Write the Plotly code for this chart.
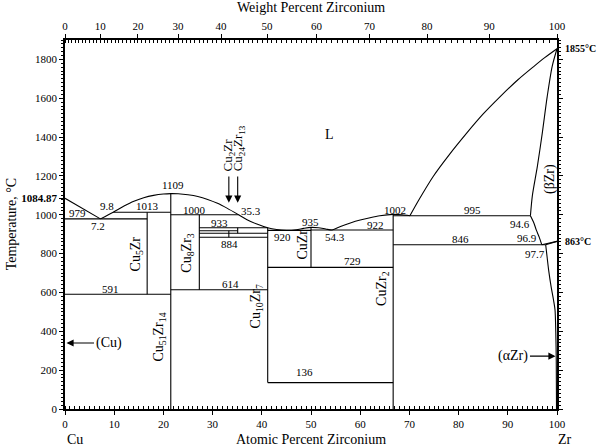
import plotly.graph_objects as go

# ---------------- data (atomic % Zr, temperature °C) ----------------
liq_cu_x = [0, 7.2]
liq_cu_y = [1084.87, 979]

liq_a_x = [7.2, 9.8, 12, 14, 16, 18, 20, 21.5, 23, 25, 27, 29, 31, 33, 35.3, 37, 39, 41.2,
           43, 45, 47, 48.5, 50, 51.5, 53, 54.3, 56, 58, 60, 62, 64, 66.7, 68.5, 70.1]
liq_a_y = [979, 1013, 1045, 1070, 1088, 1100, 1107, 1109, 1108, 1103, 1094, 1079, 1059, 1033, 1000, 975, 952, 933,
           924, 920, 923, 930, 935, 933, 927, 922, 940, 958, 973, 985, 995, 1002, 1000, 995]

liq_zr_x = [70.1, 72, 74.8, 78, 81.6, 85, 88.4, 92, 95.2, 97.5, 100]
liq_zr_y = [995, 1080, 1196, 1306, 1419, 1519, 1607, 1694, 1762, 1809, 1855]

sol_zr_x = [94.6, 95.0, 96.0, 97.0, 98.0, 99.0, 100]
sol_zr_y = [995, 1100, 1248, 1419, 1607, 1762, 1855]

beta_x = [94.6, 95.3, 95.8, 96.4, 96.9]
beta_y = [995, 958, 921, 884, 846]

transus1_x = [96.9, 100]
transus1_y = [846, 863]
transus2_x = [97.7, 100]
transus2_y = [846, 863]

alpha_x = [97.7, 98.0, 98.3, 98.8, 99.3, 99.6, 99.75, 99.85, 99.9]
alpha_y = [846, 780, 715, 630, 560, 510, 400, 250, 0]

# horizontal invariant lines: (x start, x end, temperature)
h_x0 = [0, 9.8, 0, 21.5, 27.3, 27.3, 27.3, 27.3, 21.5, 41.2, 50, 41.2, 41.2, 66.7, 66.7]
h_x1 = [16.7, 21.5, 21.5, 35.3, 41.2, 35.1, 41.2, 41.2, 41.2, 50, 66.7, 66.7, 66.7, 94.6, 97.7]
h_t = [979, 1013, 591, 1000, 933, 918, 905, 884, 614, 920, 922, 729, 136, 995, 846]

# vertical compound lines: (composition, T low, T high)
v_x = [16.7, 21.5, 27.3, 33.3, 35.1, 41.2, 50, 66.7]
v_t0 = [591, 0, 614, 884, 905, 136, 729, 0]
v_t1 = [1013, 1109, 1000, 918, 933, 933, 935, 1002]

# number labels
num_text = ["979", "9.8", "7.2", "1013", "1109", "1000", "35.3", "933", "884", "920",
            "935", "54.3", "922", "1002", "729", "995", "94.6", "96.9", "97.7", "846",
            "591", "614", "136"]
num_x = [2.5, 8.6, 6.8, 16.7, 21.9, 26.3, 37.8, 31.4, 33.4, 44.3,
         49.8, 54.8, 63.1, 67.0, 58.5, 82.8, 92.5, 94.0, 95.5, 80.4,
         9.3, 33.6, 48.7]
num_y = [1010, 1045, 940, 1045, 1152, 1025, 1018, 960, 848, 884,
         962, 888, 945, 1025, 762, 1025, 952, 880, 800, 876,
         620, 642, 188]

# phase / compound labels (rotated)
comp_text = ["Cu<sub>5</sub>Zr", "Cu<sub>8</sub>Zr<sub>3</sub>", "Cu<sub>51</sub>Zr<sub>14</sub>",
             "Cu<sub>10</sub>Zr<sub>7</sub>", "CuZr", "CuZr<sub>2</sub>", "(βZr)"]
comp_x = [14.6, 25.0, 19.2, 38.9, 48.3, 64.5, 98.6]
comp_y = [800, 800, 370, 530, 845, 620, 1185]

# weight-percent top axis ticks
wt_major = [0, 10, 20, 30, 40, 50, 60, 70, 80, 90, 100]
wt_minor = list(range(0, 101))
M_CU, M_ZR = 63.546, 91.224

y_major = [0, 200, 400, 600, 800, 1000, 1200, 1400, 1600, 1800]


def wt_to_at(w):
    a = w / M_ZR
    b = (100 - w) / M_CU
    return 100 * a / (a + b)


FONT = "Liberation Serif"

fig = go.Figure()
line = dict(color="black", width=1.1)

for xs, ys in [(liq_cu_x, liq_cu_y), (liq_a_x, liq_a_y), (liq_zr_x, liq_zr_y),
               (sol_zr_x, sol_zr_y), (beta_x, beta_y), (transus1_x, transus1_y),
               (transus2_x, transus2_y), (alpha_x, alpha_y)]:
    fig.add_trace(go.Scatter(x=xs, y=ys, mode="lines", line=dict(line, shape="spline", smoothing=0.8),
                             showlegend=False, hoverinfo="skip"))

hx, hy = [], []
for a, b, t in zip(h_x0, h_x1, h_t):
    hx += [a, b, None]
    hy += [t, t, None]
fig.add_trace(go.Scatter(x=hx, y=hy, mode="lines", line=line, showlegend=False, hoverinfo="skip"))

vx, vy = [], []
for x, a, b in zip(v_x, v_t0, v_t1):
    vx += [x, x, None]
    vy += [a, b, None]
fig.add_trace(go.Scatter(x=vx, y=vy, mode="lines", line=line, showlegend=False, hoverinfo="skip"))

# invisible trace to activate top/right axes
fig.add_trace(go.Scatter(x=[50], y=[950], xaxis="x2", yaxis="y2", mode="markers",
                         marker=dict(opacity=0), showlegend=False, hoverinfo="skip"))

C = dict(xanchor="center", yanchor="middle", showarrow=False)
ann = []
for t, x, y in zip(num_text, num_x, num_y):
    ann.append(dict(C, x=x, y=y, text=t, font=dict(size=11)))
for t, x, y in zip(comp_text, comp_x, comp_y):
    ann.append(dict(C, x=x, y=y, text=t, textangle=-90, font=dict(size=14)))

ann.append(dict(C, x=53.8, y=1412, text="L", font=dict(size=14)))

# Cu2Zr and Cu24Zr13 arrows
ann.append(dict(x=33.2, y=1212, text="Cu<sub>2</sub>Zr", showarrow=False, textangle=-90,
                xanchor="center", yanchor="bottom", font=dict(size=13)))
ann.append(dict(x=35.3, y=1212, text="Cu<sub>24</sub>Zr<sub>13</sub>", showarrow=False, textangle=-90,
                xanchor="center", yanchor="bottom", font=dict(size=13)))
for x in [33.3, 35.1]:
    ann.append(dict(x=x, y=1062, ax=x, ay=1205, axref="x", ayref="y", text="", showarrow=True,
                    arrowhead=2, arrowsize=1.3, arrowwidth=1.1, arrowcolor="black"))

# (Cu) and (αZr)
ann.append(dict(C, x=9.0, y=340, text="(Cu)", font=dict(size=14)))
ann.append(dict(x=0.3, y=340, ax=6.2, ay=340, axref="x", ayref="y", text="", showarrow=True,
                arrowhead=2, arrowsize=1.3, arrowwidth=1.1, arrowcolor="black"))
ann.append(dict(C, x=91.0, y=272, text="(αZr)", font=dict(size=14)))
ann.append(dict(x=99.7, y=272, ax=94.2, ay=272, axref="x", ayref="y", text="", showarrow=True,
                arrowhead=2, arrowsize=1.3, arrowwidth=1.1, arrowcolor="black"))

# special temperature labels
ann.append(dict(x=1.012, xref="paper", y=1855, text="<b>1855°C</b>", showarrow=False,
                xanchor="left", yanchor="middle", font=dict(size=10)))
ann.append(dict(x=1.012, xref="paper", y=863, text="<b>863°C</b>", showarrow=False,
                xanchor="left", yanchor="middle", font=dict(size=10)))

# titles
ann.append(dict(C, x=0.5, xref="paper", y=1.087, yref="paper", text="Weight Percent Zirconium",
                font=dict(size=14)))
ann.append(dict(C, x=0.5, xref="paper", y=-0.084, yref="paper", text="Atomic Percent Zirconium",
                font=dict(size=14)))
ann.append(dict(C, x=0.02, xref="paper", y=-0.084, yref="paper", text="Cu", font=dict(size=14)))
ann.append(dict(C, x=1.016, xref="paper", y=-0.084, yref="paper", text="Zr", font=dict(size=14)))
ann.append(dict(C, x=-0.108, xref="paper", y=0.5, yref="paper", text="Temperature, °C",
                textangle=-90, font=dict(size=14)))

y_tickvals = y_major + [1084.87]
y_ticktext = [str(v) for v in y_major] + ["<b>1084.87</b>"]

fig.update_layout(
    width=599, height=447,
    margin=dict(l=65, r=42, t=40, b=38),
    paper_bgcolor="white", plot_bgcolor="white",
    font=dict(family=FONT, color="black", size=11),
    annotations=ann,
    xaxis=dict(range=[0, 100], tickvals=list(range(0, 101, 10)), ticks="outside", ticklen=4,
               tickcolor="black", showline=True, linecolor="black", linewidth=1.5, showgrid=False,
               zeroline=False, tickfont=dict(size=11),
               minor=dict(dtick=1, ticks="inside", ticklen=3, tickcolor="black", showgrid=False)),
    xaxis2=dict(range=[0, 100], overlaying="x", side="top", anchor="y",
                tickvals=[wt_to_at(w) for w in wt_major], ticktext=[str(w) for w in wt_major],
                ticks="outside", ticklen=4, tickcolor="black", showline=True, linecolor="black",
                linewidth=1.5, showgrid=False, zeroline=False, tickfont=dict(size=11),
                minor=dict(tickmode="array", tickvals=[wt_to_at(w) for w in wt_minor],
                           ticks="inside", ticklen=3, tickcolor="black", showgrid=False)),
    yaxis=dict(range=[0, 1900], tickvals=y_tickvals, ticktext=y_ticktext, ticks="outside", ticklen=4,
               tickcolor="black", showline=True, linecolor="black", linewidth=1.5, showgrid=False,
               zeroline=False, tickfont=dict(size=11),
               minor=dict(dtick=20, tick0=0, ticks="outside", ticklen=2.5, tickcolor="black", showgrid=False)),
    yaxis2=dict(range=[0, 1900], overlaying="y", side="right", anchor="x",
                tickvals=y_major, showticklabels=False, ticks="outside", ticklen=4,
                tickcolor="black", showline=True, linecolor="black", linewidth=1.5, showgrid=False,
                zeroline=False,
                minor=dict(dtick=20, tick0=0, ticks="outside", ticklen=2.5, tickcolor="black", showgrid=False)),
)

fig.write_html("out.html", config={"displayModeBar": False},
               post_script="document.body.style.margin='0px';")
